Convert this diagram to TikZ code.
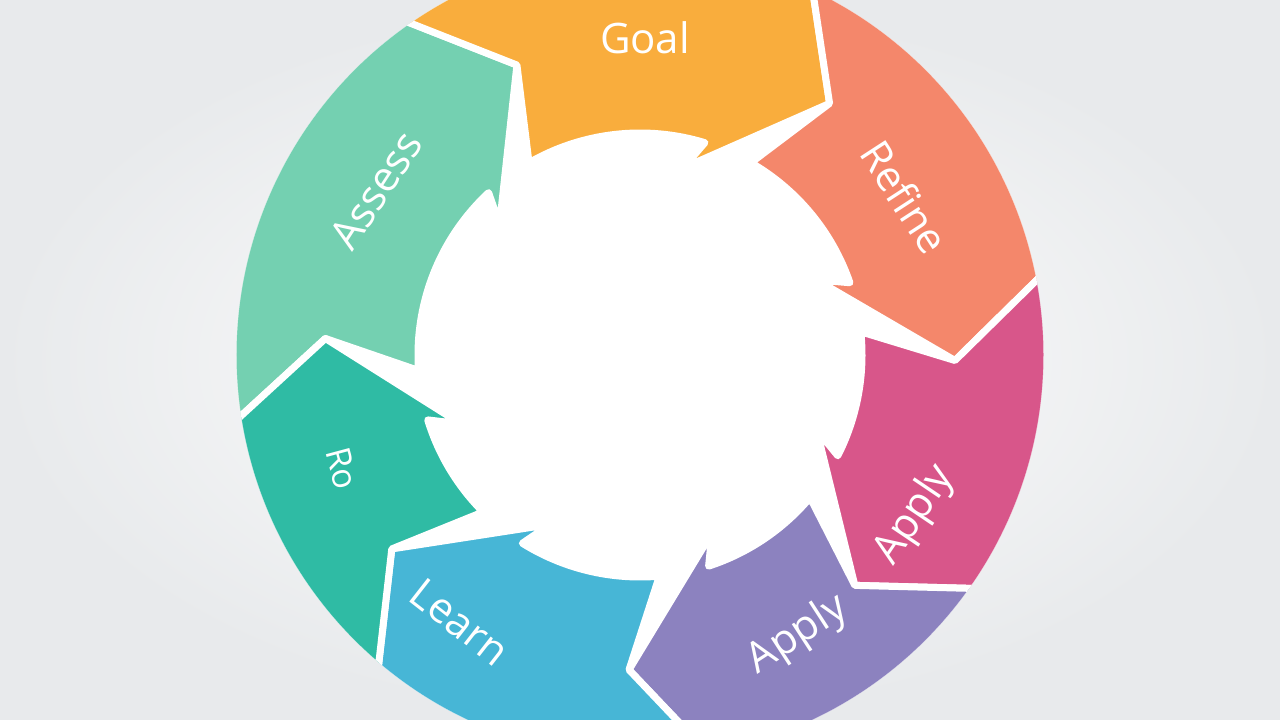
\documentclass[tikz,border=0pt]{standalone}
\usepackage{fontspec}
\setmainfont{Open Sans}
\definecolor{bggray}{HTML}{E8EAEC}
\definecolor{assessc}{HTML}{74D0B1}
\definecolor{goalc}{HTML}{F9AD3D}
\definecolor{refinec}{HTML}{F4876B}
\definecolor{applyc}{HTML}{D8568A}
\definecolor{purplec}{HTML}{8C82BF}
\definecolor{learnc}{HTML}{47B6D6}
\definecolor{tealc}{HTML}{2FBBA4}

\begin{document}
\begin{tikzpicture}[x=1pt,y=1pt,
  lbl/.style={text=white,font=\fontsize{42}{50}\selectfont,inner sep=0pt}]
\useasboundingbox (0,0) rectangle (1280,720);
\shade[inner color=white,outer color=bggray] (0,0) rectangle (1280,720);
% ring of arrows, centre of the wheel
\begin{scope}[shift={(640,365)}]
\fill[white] (0,0) circle (312);
\clip (0,0) circle (403.5);
\foreach \s/\e/\c in {177/113/assessc,113/53/goalc,53/-1/refinec,-1/-47/applyc,-47/-92/purplec,-92/-142/learnc,218/177/tealc} {
  \filldraw[fill=\c,draw=white,line width=7,line join=round]
    ({\s+12}:407) arc[start angle=\s+12,end angle=\e+12,radius=407]
    -- (\e:315) -- ({\e+24}:192) -- ({\e+20}:222)
    arc[start angle=\e+20,end angle=\s+7,radius=222]
    -- (\s:315) -- cycle;
}
\end{scope}
% labels
\node[lbl] (goal) at (645,682) {Goal};
\node[lbl,rotate=-57] (refine) at (905,523) {Refine};
\node[lbl,rotate=56] (apply1) at (915,205) {Apply};
\node[lbl,rotate=33] (apply2) at (798,85) {Apply};
\node[lbl,rotate=-38] (learn) at (460,98) {Learn};
\node[lbl,rotate=-75,font=\fontsize{34}{40}\selectfont] (ro) at (342,252) {Ro};
\node[lbl,rotate=57] (assess) at (376,530) {Assess};
\end{tikzpicture}
\end{document}
